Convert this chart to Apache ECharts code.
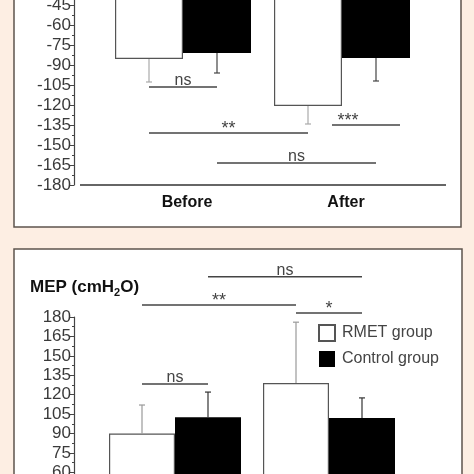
<!DOCTYPE html>
<html>
<head>
<meta charset="utf-8">
<script src="https://cdn.jsdelivr.net/npm/echarts@6/dist/echarts.min.js"></script>
<style>
html, body { margin: 0; padding: 0; background: #fdeee3; }
#main { width: 474px; height: 474px; }
</style>
</head>
<body>
<div id="main"></div>
<script>
// data
var categories = ['Before', 'After'];
var groupNames = ['RMET group', 'Control group'];

// upper panel (negative pressures, cmH2O)
var mipRmet = [-85.5, -120.75];
var mipRmetErr = [-102.75, -134.25];
var mipControl = [-81, -84.75];
var mipControlErr = [-96, -102];

// lower panel: MEP (cmH2O)
var mepRmet = [90, 129];
var mepRmetErr = [112, 176];
var mepControl = [102.5, 102];
var mepControlErr = [122, 117.5];

// comparisons: [category a, group a, category b, group b, level, label]
var mipBrackets = [
    [0, 0, 0, 1, -106.5, 'ns'],
    [0, 0, 1, 0, -141, '**'],
    [1, 0, 1, 1, -135, '***'],
    [0, 1, 1, 1, -163.5, 'ns']
];
var mepBrackets = [
    [0, 1, 1, 1, 211, 'ns'],
    [0, 0, 1, 0, 189.3, '**'],
    [1, 0, 1, 1, 183.1, '*'],
    [0, 0, 0, 1, 128.2, 'ns']
];

var FONT = 'Liberation Sans';
var barW = [68, 66];
var lineShift = [[0, 0, 24, 0], [0, 0, 0, 0]];
var labelShift = [[0, 0, -18, 0], [0, 0, 0, 0]];

function errorSeries(gi, group, means, ends, color) {
    return {
        type: 'custom',
        xAxisIndex: gi, yAxisIndex: gi,
        z: 4,
        data: means.map(function (m, i) { return [i, m, ends[i]]; }),
        renderItem: function (params, api) {
            var p0 = api.coord([api.value(0), api.value(1)]);
            var p1 = api.coord([api.value(0), api.value(2)]);
            var x = p0[0] + (group ? 1 : -1) * barW[gi] / 2;
            return {
                type: 'group',
                children: [
                    { type: 'line', shape: { x1: x, y1: p0[1], x2: x, y2: p1[1] }, style: { stroke: color, lineWidth: 1.2 } },
                    { type: 'line', shape: { x1: x - 3, y1: p1[1], x2: x + 3, y2: p1[1] }, style: { stroke: color, lineWidth: 1.2 } }
                ]
            };
        }
    };
}

function bracketSeries(gi, list) {
    return {
        type: 'custom',
        xAxisIndex: gi, yAxisIndex: gi,
        z: 5,
        data: list.map(function (b, i) { return [b[0], b[4], i]; }),
        renderItem: function (params, api) {
            var k = api.value(2);
            var b = list[k];
            var half = barW[gi] / 2;
            var pa = api.coord([b[0], b[4]]);
            var pb = api.coord([b[2], b[4]]);
            var x1 = pa[0] + (b[1] ? half : -half) + lineShift[gi][k];
            var x2 = pb[0] + (b[3] ? half : -half) + lineShift[gi][k];
            var y = pa[1];
            var star = b[5].indexOf('*') >= 0;
            return {
                type: 'group',
                children: [
                    { type: 'line', shape: { x1: x1, y1: y, x2: x2, y2: y }, style: { stroke: '#444', lineWidth: 1.5 } },
                    {
                        type: 'text',
                        style: {
                            text: b[5],
                            x: (x1 + x2) / 2 + labelShift[gi][k],
                            y: star ? y - 4 : y + 2,
                            align: 'center',
                            verticalAlign: star ? 'middle' : 'bottom',
                            font: (star ? '18px ' : '16px ') + FONT,
                            fill: '#444'
                        }
                    }
                ]
            };
        }
    };
}

function yAxisOf(gi, min, max, offset) {
    return {
        type: 'value', gridIndex: gi,
        min: min, max: max, interval: 15,
        offset: offset,
        splitLine: { show: false },
        axisLine: { show: true, lineStyle: { color: '#444', width: 1.2 } },
        axisTick: { show: true, length: 4, lineStyle: { color: '#444' } },
        minorTick: { show: true, splitNumber: 2, length: 2, lineStyle: { color: '#444' } },
        axisLabel: { color: '#3a3a3a', fontSize: 17, fontFamily: FONT, margin: 3 }
    };
}

var option = {
    backgroundColor: '#fdeee3',
    animation: false,
    graphic: [
        { type: 'rect', z: -10, shape: { x: 14, y: -10, width: 447, height: 237 }, style: { fill: '#fff', stroke: '#5e544d', lineWidth: 1.5 } },
        { type: 'rect', z: -10, shape: { x: 14, y: 249, width: 448, height: 240 }, style: { fill: '#fff', stroke: '#5e544d', lineWidth: 1.5 } },
        { type: 'line', z: 10, shape: { x1: 80, y1: 185, x2: 446, y2: 185 }, style: { stroke: '#333', lineWidth: 1.5 } }
    ],
    title: {
        left: 30, top: 277, padding: 0,
        text: '{a|MEP (cmH}{s|2}{a|O)}',
        textStyle: {
            rich: {
                a: { fontSize: 17, fontWeight: 'bold', fontFamily: FONT, color: '#111', lineHeight: 21 },
                s: { fontSize: 11, fontWeight: 'bold', fontFamily: FONT, color: '#111', lineHeight: 11, verticalAlign: 'bottom' }
            }
        }
    },
    legend: {
        left: 318, top: 324,
        padding: 0,
        orient: 'vertical',
        icon: 'rect',
        itemWidth: 16, itemHeight: 16, itemGap: 9,
        data: groupNames,
        textStyle: { fontSize: 16, fontFamily: FONT, color: '#444', padding: [0, 0, 0, 2] }
    },
    grid: [
        { left: 103.5, right: 52.5, top: -55, bottom: 289, containLabel: false, outerBoundsMode: 'none' },
        { left: 98, right: 68, top: 317, bottom: -76, containLabel: false, outerBoundsMode: 'none' }
    ],
    xAxis: [
        {
            type: 'category', gridIndex: 0, data: categories,
            axisLine: { show: false },
            axisTick: { show: true, alignWithLabel: true, length: 3, lineStyle: { color: '#333' } },
            axisLabel: { color: '#111', fontSize: 16, fontWeight: 'bold', fontFamily: FONT, margin: 10, padding: [0, 0, 0, 8] }
        },
        {
            type: 'category', gridIndex: 1, data: categories,
            axisLine: { show: false }, axisTick: { show: false }, axisLabel: { show: false }
        }
    ],
    yAxis: [
        yAxisOf(0, -180, 0, 29.5),
        yAxisOf(1, 0, 180, 24)
    ],
    series: [
        {
            name: groupNames[0], type: 'bar', xAxisIndex: 0, yAxisIndex: 0,
            barWidth: barW[0], barGap: '0%', data: mipRmet,
            itemStyle: { color: '#fff', borderColor: '#555', borderWidth: 1.2 }
        },
        {
            name: groupNames[1], type: 'bar', xAxisIndex: 0, yAxisIndex: 0,
            barWidth: barW[0], barGap: '0%', data: mipControl,
            itemStyle: { color: '#000' }
        },
        {
            name: groupNames[0], type: 'bar', xAxisIndex: 1, yAxisIndex: 1,
            barWidth: barW[1], barGap: '0%', data: mepRmet,
            itemStyle: { color: '#fff', borderColor: '#555', borderWidth: 1.2 }
        },
        {
            name: groupNames[1], type: 'bar', xAxisIndex: 1, yAxisIndex: 1,
            barWidth: barW[1], barGap: '0%', data: mepControl,
            itemStyle: { color: '#000' }
        },
        errorSeries(0, 0, mipRmet, mipRmetErr, '#aaa'),
        errorSeries(0, 1, mipControl, mipControlErr, '#444'),
        errorSeries(1, 0, mepRmet, mepRmetErr, '#999'),
        errorSeries(1, 1, mepControl, mepControlErr, '#333'),
        bracketSeries(0, mipBrackets),
        bracketSeries(1, mepBrackets)
    ]
};

var myChart = echarts.init(document.getElementById('main'));
myChart.setOption(option);
</script>
</body>
</html>
